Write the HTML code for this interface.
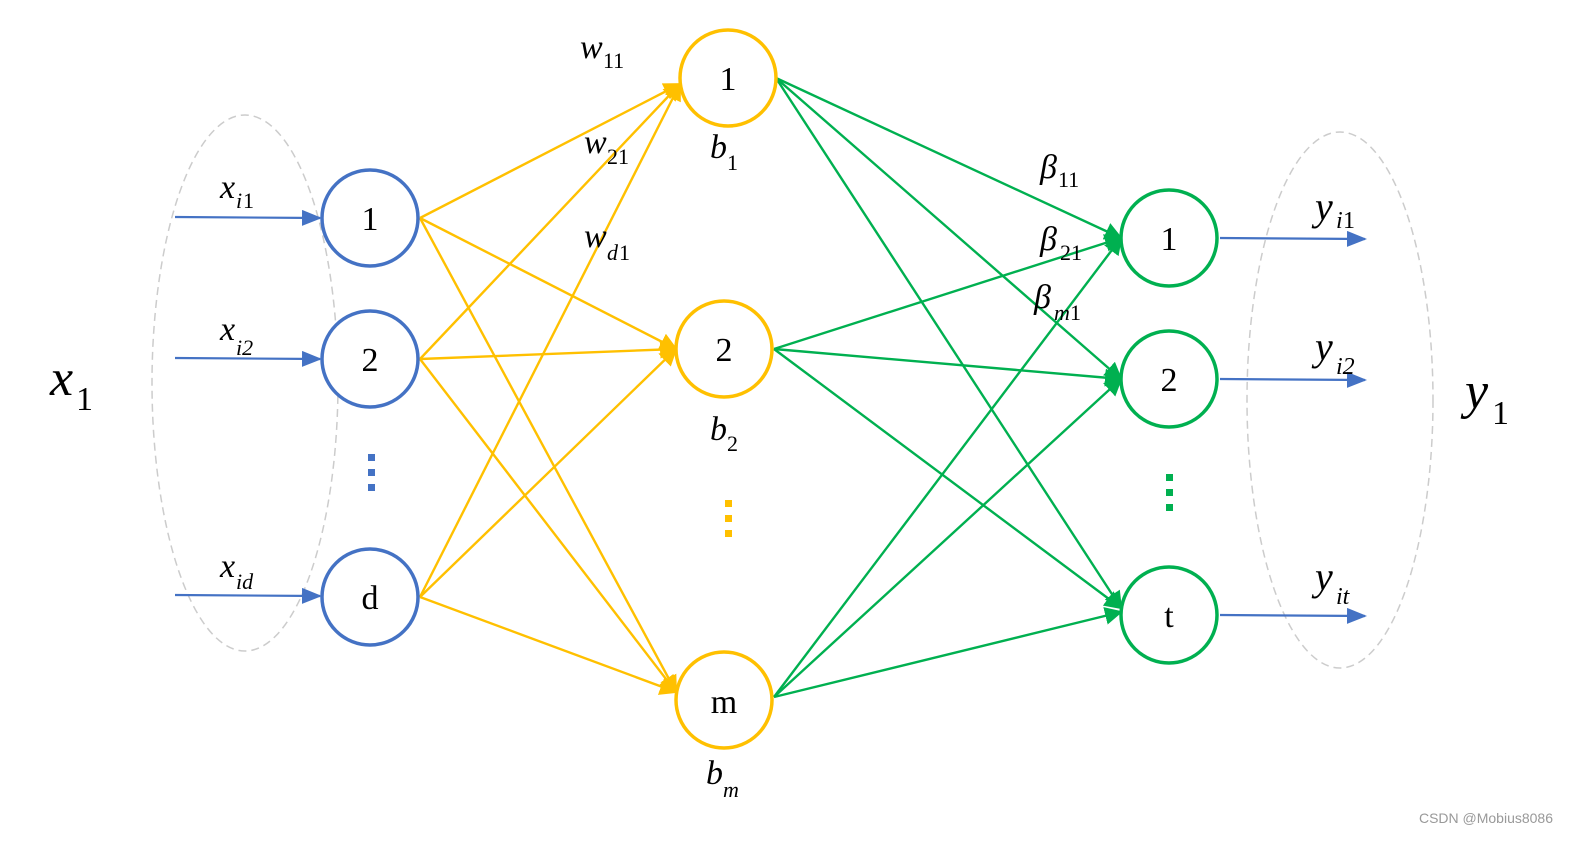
<!DOCTYPE html>
<html><head><style>
body{margin:0;background:#fff}
svg text{font-family:"Liberation Serif",serif}
.i{font-style:italic}
</style></head><body>
<svg width="1596" height="848" viewBox="0 0 1596 848" xmlns="http://www.w3.org/2000/svg">
<defs>
<marker id="ayb" markerWidth="18" markerHeight="18" refX="16" refY="9" orient="auto" markerUnits="userSpaceOnUse"><path d="M0,0L18,9L0,18z" fill="#FFC000"/></marker>
<marker id="ag" markerWidth="18" markerHeight="18" refX="16" refY="9" orient="auto" markerUnits="userSpaceOnUse"><path d="M0,0L18,9L0,18z" fill="#00B050"/></marker>
<marker id="ab" markerWidth="20" markerHeight="16" refX="18" refY="8" orient="auto" markerUnits="userSpaceOnUse"><path d="M0,0L20,8L0,16z" fill="#4472C4"/></marker>
</defs>
<ellipse cx="245" cy="383" rx="93" ry="268" fill="none" stroke="#ccc" stroke-width="1.5" stroke-dasharray="8,5"/>
<ellipse cx="1340" cy="400" rx="93" ry="268" fill="none" stroke="#ccc" stroke-width="1.5" stroke-dasharray="8,5"/>
<g stroke="#4472C4" stroke-width="2.2" marker-end="url(#ab)">
<line x1="175" y1="217" x2="320" y2="218"/>
<line x1="175" y1="358" x2="320" y2="359"/>
<line x1="175" y1="595" x2="320" y2="596"/>
<line x1="1220" y1="238" x2="1365" y2="239"/>
<line x1="1220" y1="379" x2="1365" y2="380"/>
<line x1="1220" y1="615" x2="1365" y2="616"/>
</g>
<g stroke="#FFC000" stroke-width="2.4" marker-end="url(#ayb)">
<line x1="420" y1="218" x2="680" y2="84"/>
<line x1="420" y1="218" x2="676" y2="349"/>
<line x1="420" y1="218" x2="676" y2="692"/>
<line x1="420" y1="359" x2="680" y2="84"/>
<line x1="420" y1="359" x2="676" y2="349"/>
<line x1="420" y1="359" x2="676" y2="692"/>
<line x1="420" y1="597" x2="680" y2="84"/>
<line x1="420" y1="597" x2="676" y2="349"/>
<line x1="420" y1="597" x2="676" y2="692"/>
</g>
<g stroke="#00B050" stroke-width="2.4" marker-end="url(#ag)">
<line x1="776" y1="78" x2="1121" y2="238"/>
<line x1="776" y1="78" x2="1121" y2="379"/>
<line x1="776" y1="78" x2="1121" y2="608"/>
<line x1="774" y1="349" x2="1121" y2="238"/>
<line x1="774" y1="349" x2="1121" y2="379"/>
<line x1="774" y1="349" x2="1121" y2="608"/>
<line x1="774" y1="697" x2="1121" y2="238"/>
<line x1="774" y1="697" x2="1121" y2="379"/>
<line x1="774" y1="697" x2="1121" y2="612"/>
</g>
<g fill="#fff" stroke-width="3.5">
<circle cx="370" cy="218" r="48" stroke="#4472C4"/>
<circle cx="370" cy="359" r="48" stroke="#4472C4"/>
<circle cx="370" cy="597" r="48" stroke="#4472C4"/>
<circle cx="728" cy="78" r="48" stroke="#FFC000"/>
<circle cx="724" cy="349" r="48" stroke="#FFC000"/>
<circle cx="724" cy="700" r="48" stroke="#FFC000"/>
<circle cx="1169" cy="238" r="48" stroke="#00B050"/>
<circle cx="1169" cy="379" r="48" stroke="#00B050"/>
<circle cx="1169" cy="615" r="48" stroke="#00B050"/>
</g>
<g font-size="34" text-anchor="middle">
<text x="370" y="230">1</text><text x="370" y="371">2</text><text x="370" y="609">d</text>
<text x="728" y="90">1</text><text x="724" y="361">2</text><text x="724" y="713">m</text>
<text x="1169" y="250">1</text><text x="1169" y="391">2</text><text x="1169" y="627">t</text>
</g>
<g fill="#4472C4"><rect x="368" y="454" width="7" height="7"/><rect x="368" y="469" width="7" height="7"/><rect x="368" y="484" width="7" height="7"/></g>
<g fill="#FFC000"><rect x="725" y="500" width="7" height="7"/><rect x="725" y="515" width="7" height="7"/><rect x="725" y="530" width="7" height="7"/></g>
<g fill="#00B050"><rect x="1166" y="474" width="7" height="7"/><rect x="1166" y="489" width="7" height="7"/><rect x="1166" y="504" width="7" height="7"/></g>
<g font-size="34" class="i">
<text x="220" y="198">x</text><text x="236" y="208" font-size="22">i</text><text x="243" y="208" font-size="22" font-style="normal">1</text>
<text x="220" y="340">x</text><text x="236" y="355" font-size="22">i2</text>
<text x="220" y="577">x</text><text x="236" y="589" font-size="22">id</text>
<text x="50" y="395" font-size="52">x</text><text x="76" y="410" font-size="34" font-style="normal">1</text>
<text x="1465" y="408" font-size="52">y</text><text x="1492" y="424" font-size="34" font-style="normal">1</text>
<text x="1315" y="220" font-size="40">y</text><text x="1336" y="228" font-size="24">i</text><text x="1343" y="228" font-size="24" font-style="normal">1</text>
<text x="1315" y="360" font-size="40">y</text><text x="1336" y="374" font-size="24">i2</text>
<text x="1315" y="590" font-size="40">y</text><text x="1336" y="604" font-size="24">it</text>
<text x="580" y="58">w</text><text x="603" y="68" font-size="22" font-style="normal">11</text>
<text x="584" y="153">w</text><text x="607" y="164" font-size="22" font-style="normal">21</text>
<text x="584" y="247">w</text><text x="607" y="260" font-size="22">d</text><text x="619" y="260" font-size="22" font-style="normal">1</text>
<text x="710" y="158">b</text><text x="727" y="170" font-size="22" font-style="normal">1</text>
<text x="710" y="440">b</text><text x="727" y="451" font-size="22" font-style="normal">2</text>
<text x="706" y="784">b</text><text x="723" y="797" font-size="22">m</text>
<text x="1040" y="178">β</text><text x="1058" y="187" font-size="22" font-style="normal">11</text>
<text x="1040" y="250">β</text><text x="1060" y="260" font-size="22" font-style="normal">21</text>
<text x="1034" y="308">β</text><text x="1054" y="320" font-size="22">m</text><text x="1070" y="320" font-size="22" font-style="normal">1</text>
</g>
<text x="1553" y="823" text-anchor="end" font-size="14" fill="#999" style="font-family:'Liberation Sans',sans-serif">CSDN @Mobius8086</text>
</svg>
</body></html>
